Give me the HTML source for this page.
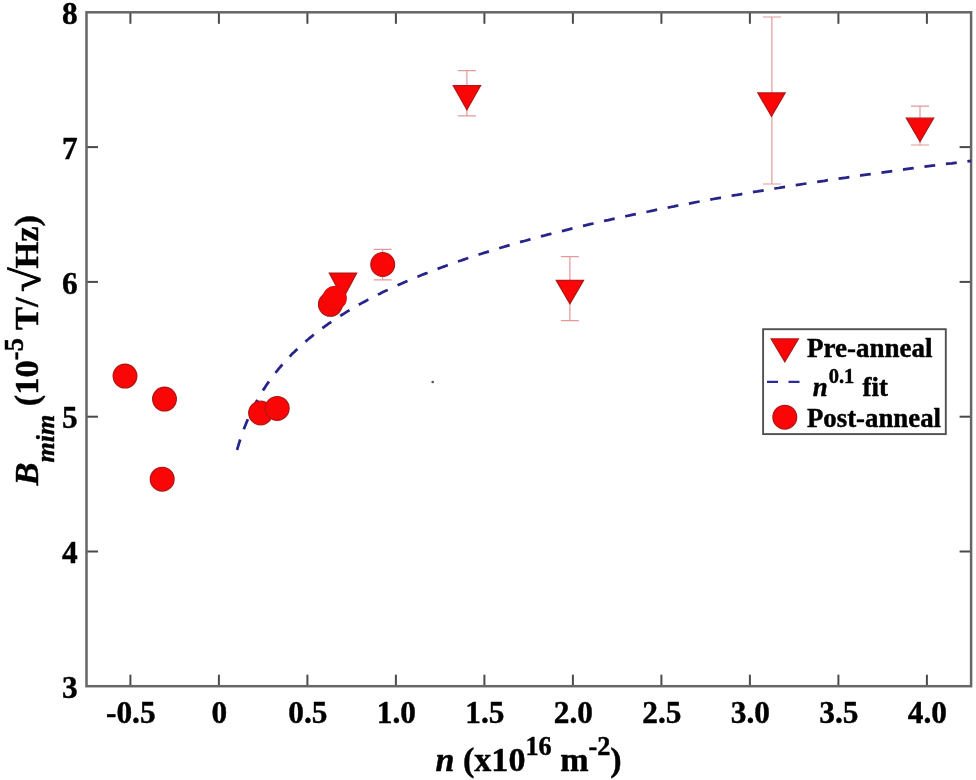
<!DOCTYPE html>
<html lang="en"><head><meta charset="utf-8"><title>B_mim vs n</title>
<style>html,body{margin:0;padding:0;background:#fff}body{width:976px;height:780px;overflow:hidden}svg{display:block;filter:blur(0.5px)}</style></head>
<body>
<svg width="976" height="780" viewBox="0 0 976 780">
<rect width="976" height="780" fill="#fff"/>
<g stroke="#4a4a4a" stroke-width="2">
<line x1="130.4" y1="686.2" x2="130.4" y2="674.7"/>
<line x1="130.4" y1="12.3" x2="130.4" y2="23.8"/>
<line x1="218.9" y1="686.2" x2="218.9" y2="674.7"/>
<line x1="218.9" y1="12.3" x2="218.9" y2="23.8"/>
<line x1="307.4" y1="686.2" x2="307.4" y2="674.7"/>
<line x1="307.4" y1="12.3" x2="307.4" y2="23.8"/>
<line x1="395.9" y1="686.2" x2="395.9" y2="674.7"/>
<line x1="395.9" y1="12.3" x2="395.9" y2="23.8"/>
<line x1="484.4" y1="686.2" x2="484.4" y2="674.7"/>
<line x1="484.4" y1="12.3" x2="484.4" y2="23.8"/>
<line x1="572.9" y1="686.2" x2="572.9" y2="674.7"/>
<line x1="572.9" y1="12.3" x2="572.9" y2="23.8"/>
<line x1="661.4" y1="686.2" x2="661.4" y2="674.7"/>
<line x1="661.4" y1="12.3" x2="661.4" y2="23.8"/>
<line x1="749.9" y1="686.2" x2="749.9" y2="674.7"/>
<line x1="749.9" y1="12.3" x2="749.9" y2="23.8"/>
<line x1="838.4" y1="686.2" x2="838.4" y2="674.7"/>
<line x1="838.4" y1="12.3" x2="838.4" y2="23.8"/>
<line x1="926.9" y1="686.2" x2="926.9" y2="674.7"/>
<line x1="926.9" y1="12.3" x2="926.9" y2="23.8"/>
<line x1="86.5" y1="551.5" x2="98.0" y2="551.5"/>
<line x1="971.1" y1="551.5" x2="959.6" y2="551.5"/>
<line x1="86.5" y1="416.7" x2="98.0" y2="416.7"/>
<line x1="971.1" y1="416.7" x2="959.6" y2="416.7"/>
<line x1="86.5" y1="281.9" x2="98.0" y2="281.9"/>
<line x1="971.1" y1="281.9" x2="959.6" y2="281.9"/>
<line x1="86.5" y1="147.1" x2="98.0" y2="147.1"/>
<line x1="971.1" y1="147.1" x2="959.6" y2="147.1"/>
</g>
<rect x="86.5" y="12.3" width="884.6" height="673.9" fill="none" stroke="#666" stroke-width="2.5"/>
<circle cx="432.7" cy="382" r="1.3" fill="#555"/>
<g stroke="#e29a9a" stroke-width="1.2" fill="none">
<path d="M457.9,70.7 H475.9 M457.9,115.8 H475.9 M466.9,70.7 V115.8"/>
<path d="M762.9,17.0 H780.9 M762.9,184.0 H780.9 M771.9,17.0 V184.0"/>
<path d="M911.0,106.2 H929.0 M911.0,145.0 H929.0 M920.0,106.2 V145.0"/>
<path d="M560.9,256.6 H578.9 M560.9,320.6 H578.9 M569.9,256.6 V320.6"/>
<path d="M373.7,249.4 H391.7 M373.7,279.8 H391.7 M382.7,249.4 V279.8"/>
</g>
<path d="M236.6,451.6 L236.7,451.3 L236.8,450.7 L237.1,449.9 L237.3,449.0 L237.6,447.9 L238.0,446.7 L238.4,445.4 L238.8,443.9 L239.3,442.5 L239.8,440.9 L240.3,439.3 L240.9,437.6 L241.4,435.9 L242.1,434.2 L242.7,432.4 L243.3,430.6 L244.0,428.8 L244.7,426.9 L245.5,425.0 L246.2,423.2 L247.0,421.3 L247.8,419.4 L248.7,417.5 L249.5,415.6 L250.4,413.7 L251.3,411.8 L252.2,409.9 L253.1,408.0 L254.1,406.1 L255.1,404.3 L256.0,402.4 L257.1,400.5 L258.1,398.7 L259.1,396.9 L260.2,395.0 L261.3,393.2 L262.4,391.4 L263.5,389.6 L264.7,387.9 L265.8,386.1 L267.0,384.3 L268.2,382.6 L269.4,380.9 L270.7,379.2 L271.9,377.5 L273.2,375.8 L274.4,374.1 L275.7,372.5 L277.1,370.8 L278.4,369.2 L279.7,367.6 L281.1,366.0 L282.5,364.4 L283.9,362.8 L285.3,361.3 L286.7,359.7 L288.1,358.2 L289.6,356.7 L291.0,355.1 L292.5,353.6 L294.0,352.2 L295.5,350.7 L297.1,349.2 L298.6,347.8 L300.2,346.3 L301.7,344.9 L303.3,343.5 L304.9,342.1 L306.5,340.7 L308.2,339.3 L309.8,337.9 L311.5,336.6 L313.1,335.2 L314.8,333.9 L316.5,332.6 L318.2,331.2 L320.0,329.9 L321.7,328.6 L323.5,327.3 L325.2,326.1 L327.0,324.8 L328.8,323.5 L330.6,322.3 L332.4,321.0 L334.3,319.8 L336.1,318.6 L338.0,317.4 L339.8,316.2 L341.7,315.0 L343.6,313.8 L345.5,312.6 L347.4,311.4 L349.4,310.2 L351.3,309.1 L353.3,307.9 L355.2,306.8 L357.2,305.7 L359.2,304.5 L361.2,303.4 L363.3,302.3 L365.3,301.2 L367.3,300.1 L369.4,299.0 L371.5,297.9 L373.5,296.9 L375.6,295.8 L377.7,294.7 L379.9,293.7 L382.0,292.6 L384.1,291.6 L386.3,290.6 L388.4,289.5 L390.6,288.5 L392.8,287.5 L395.0,286.5 L397.2,285.5 L399.4,284.5 L401.7,283.5 L403.9,282.5 L406.2,281.5 L408.4,280.6 L410.7,279.6 L413.0,278.6 L415.3,277.7 L417.6,276.7 L419.9,275.8 L422.3,274.8 L424.6,273.9 L427.0,273.0 L429.3,272.0 L431.7,271.1 L434.1,270.2 L436.5,269.3 L438.9,268.4 L441.3,267.5 L443.8,266.6 L446.2,265.7 L448.6,264.8 L451.1,263.9 L453.6,263.1 L456.1,262.2 L458.6,261.3 L461.1,260.5 L463.6,259.6 L466.1,258.7 L468.7,257.9 L471.2,257.0 L473.8,256.2 L476.3,255.4 L478.9,254.5 L481.5,253.7 L484.1,252.9 L486.7,252.1 L489.3,251.2 L492.0,250.4 L494.6,249.6 L497.3,248.8 L499.9,248.0 L502.6,247.2 L505.3,246.4 L508.0,245.6 L510.7,244.8 L513.4,244.1 L516.1,243.3 L518.8,242.5 L521.6,241.7 L524.3,241.0 L527.1,240.2 L529.9,239.4 L532.6,238.7 L535.4,237.9 L538.2,237.2 L541.0,236.4 L543.9,235.7 L546.7,234.9 L549.5,234.2 L552.4,233.5 L555.2,232.7 L558.1,232.0 L561.0,231.3 L563.9,230.6 L566.8,229.8 L569.7,229.1 L572.6,228.4 L575.5,227.7 L578.5,227.0 L581.4,226.3 L584.4,225.6 L587.3,224.9 L590.3,224.2 L593.3,223.5 L596.3,222.8 L599.3,222.1 L602.3,221.4 L605.3,220.7 L608.3,220.1 L611.4,219.4 L614.4,218.7 L617.5,218.0 L620.6,217.4 L623.6,216.7 L626.7,216.0 L629.8,215.4 L632.9,214.7 L636.0,214.1 L639.1,213.4 L642.3,212.8 L645.4,212.1 L648.6,211.5 L651.7,210.8 L654.9,210.2 L658.1,209.5 L661.3,208.9 L664.4,208.3 L667.7,207.6 L670.9,207.0 L674.1,206.4 L677.3,205.7 L680.6,205.1 L683.8,204.5 L687.1,203.9 L690.3,203.3 L693.6,202.7 L696.9,202.0 L700.2,201.4 L703.5,200.8 L706.8,200.2 L710.1,199.6 L713.4,199.0 L716.8,198.4 L720.1,197.8 L723.5,197.2 L726.8,196.6 L730.2,196.0 L733.6,195.4 L737.0,194.9 L740.4,194.3 L743.8,193.7 L747.2,193.1 L750.6,192.5 L754.0,191.9 L757.5,191.4 L760.9,190.8 L764.4,190.2 L767.8,189.7 L771.3,189.1 L774.8,188.5 L778.3,188.0 L781.8,187.4 L785.3,186.8 L788.8,186.3 L792.3,185.7 L795.9,185.2 L799.4,184.6 L803.0,184.0 L806.5,183.5 L810.1,182.9 L813.7,182.4 L817.2,181.9 L820.8,181.3 L824.4,180.8 L828.0,180.2 L831.7,179.7 L835.3,179.2 L838.9,178.6 L842.6,178.1 L846.2,177.6 L849.9,177.0 L853.5,176.5 L857.2,176.0 L860.9,175.4 L864.6,174.9 L868.3,174.4 L872.0,173.9 L875.7,173.3 L879.4,172.8 L883.1,172.3 L886.9,171.8 L890.6,171.3 L894.4,170.8 L898.1,170.3 L901.9,169.7 L905.7,169.2 L909.5,168.7 L913.3,168.2 L917.1,167.7 L920.9,167.2 L924.7,166.7 L928.5,166.2 L932.4,165.7 L936.2,165.2 L940.1,164.7 L943.9,164.2 L947.8,163.7 L951.7,163.3 L955.5,162.8 L959.4,162.3 L963.3,161.8 L967.2,161.3 L971.1,160.8" fill="none" stroke="#27248a" stroke-width="2.75" stroke-dasharray="10.9 10.77" stroke-dashoffset="19.92"/>
<g fill="#fb0606" stroke="#b51515" stroke-width="1.3" stroke-linejoin="miter">
<path d="M329.4,273.1 H356.6 L343.0,298.5 Z"/>
<path d="M453.3,85.7 H480.5 L466.9,109.7 Z"/>
<path d="M757.9,92.9 H785.1 L771.5,116.3 Z"/>
<path d="M906.4,118.2 H933.6 L920.0,141.5 Z"/>
<path d="M556.3,280.4 H583.5 L569.9,303.8 Z"/>
<circle cx="125.0" cy="376.1" r="11.85"/>
<circle cx="164.5" cy="399.1" r="11.85"/>
<circle cx="162.2" cy="479.2" r="11.85"/>
<circle cx="260.6" cy="413.0" r="11.85"/>
<circle cx="277.2" cy="408.4" r="11.85"/>
<circle cx="330.4" cy="304.3" r="11.85"/>
<circle cx="334.6" cy="298.2" r="11.85" stroke="#d51212" stroke-width="1"/>
<circle cx="382.7" cy="264.5" r="11.85"/>
</g>
<rect x="763.1" y="329.2" width="182.7" height="104.9" fill="#fff" stroke="#505050" stroke-width="1.9"/>
<path d="M771.2,338.9 H798.4 L784.8,361.8 Z" fill="#fb0606" stroke="#b51515" stroke-width="1.3"/>
<path d="M767,381.8 H800" stroke="#2b2a96" stroke-width="2.2" stroke-dasharray="11 10.5" fill="none"/>
<circle cx="784.8" cy="417.2" r="11.85" fill="#fb0606" stroke="#b51515" stroke-width="1.3"/>
<g font-family="Liberation Serif, serif" font-weight="bold" fill="#000" stroke="#000" stroke-width="0.45" stroke-linejoin="round">
<text x="807" y="356.5" font-size="27">Pre-anneal</text>
<text x="812.8" y="395.9" font-size="26.8"><tspan font-style="italic">n</tspan><tspan font-size="20.5" dy="-12.6" dx="1">0.1</tspan><tspan dy="12.6" dx="1.5"> fit</tspan></text>
<text x="807" y="427.1" font-size="26.8">Post-anneal</text>
<text transform="translate(130.8,723.1) scale(0.97,1)" font-size="32.3" text-anchor="middle">-0.5</text>
<text transform="translate(219.3,723.1) scale(0.97,1)" font-size="32.3" text-anchor="middle">0</text>
<text transform="translate(307.8,723.1) scale(0.97,1)" font-size="32.3" text-anchor="middle">0.5</text>
<text transform="translate(396.3,723.1) scale(0.97,1)" font-size="32.3" text-anchor="middle">1.0</text>
<text transform="translate(484.8,723.1) scale(0.97,1)" font-size="32.3" text-anchor="middle">1.5</text>
<text transform="translate(573.3,723.1) scale(0.97,1)" font-size="32.3" text-anchor="middle">2.0</text>
<text transform="translate(661.8,723.1) scale(0.97,1)" font-size="32.3" text-anchor="middle">2.5</text>
<text transform="translate(750.3,723.1) scale(0.97,1)" font-size="32.3" text-anchor="middle">3.0</text>
<text transform="translate(838.8,723.1) scale(0.97,1)" font-size="32.3" text-anchor="middle">3.5</text>
<text transform="translate(927.3,723.1) scale(0.97,1)" font-size="32.3" text-anchor="middle">4.0</text>
<text transform="translate(77.7,697.9) scale(0.97,1)" font-size="32.3" text-anchor="end">3</text>
<text transform="translate(77.7,563.1) scale(0.97,1)" font-size="32.3" text-anchor="end">4</text>
<text transform="translate(77.7,428.3) scale(0.97,1)" font-size="32.3" text-anchor="end">5</text>
<text transform="translate(77.7,293.5) scale(0.97,1)" font-size="32.3" text-anchor="end">6</text>
<text transform="translate(77.7,158.7) scale(0.97,1)" font-size="32.3" text-anchor="end">7</text>
<text transform="translate(77.7,23.9) scale(0.97,1)" font-size="32.3" text-anchor="end">8</text>
<text transform="translate(435.5,770.6) scale(0.988,1)" font-size="34.5"><tspan font-style="italic">n</tspan> (x10<tspan font-size="26.5" dy="-15.5">16</tspan><tspan dy="15.5"> m</tspan><tspan font-size="26.5" dy="-15.5">-2</tspan><tspan dy="15.5">)</tspan></text>
<g transform="translate(38,485.5) rotate(-90)" font-size="34.5">
<text x="0" y="0"><tspan font-style="italic">B</tspan><tspan font-style="italic" font-size="26" dy="16">mim</tspan><tspan dy="-16"> (10</tspan><tspan font-size="26.5" dy="-15.5">-5</tspan><tspan dy="15.5"> T/</tspan></text>
<text transform="translate(193.6,1.8) scale(1.30,1.19)" stroke-width="0.7">√</text>
<text x="216.9" y="0">Hz)</text>
</g>
</g>
</svg>
</body></html>
